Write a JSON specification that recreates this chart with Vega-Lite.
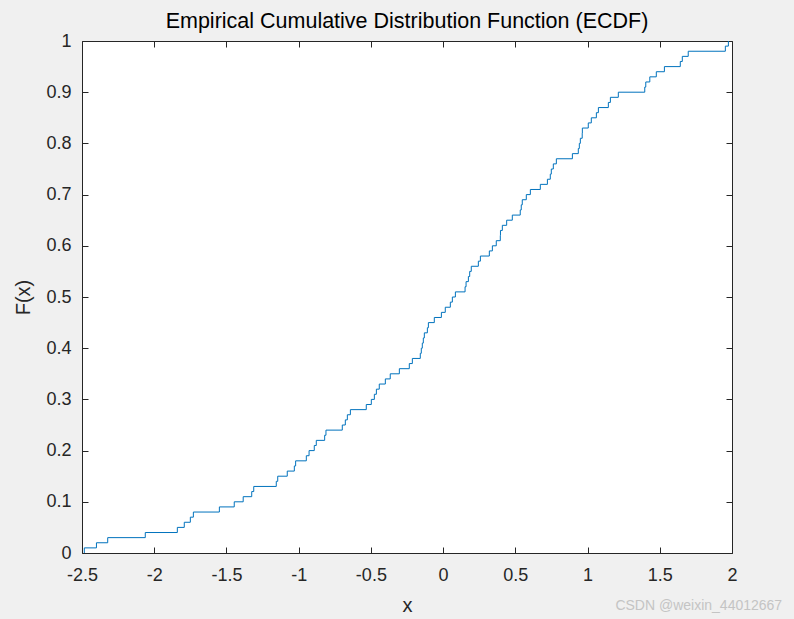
{
  "$schema": "https://vega.github.io/schema/vega-lite/v6.json",
  "width": 650,
  "height": 512,
  "autosize": {"type": "none"},
  "padding": {"left": 82, "top": 41, "right": 62, "bottom": 66},
  "background": "#f0f0f0",
  "title": {"text": "Empirical Cumulative Distribution Function (ECDF)", "font": "Liberation Sans", "fontSize": 21.5, "fontWeight": "normal", "color": "#000000", "offset": 0, "anchor": "middle"},
  "config": {
    "view": {"fill": "#ffffff", "stroke": null},
    "axis": {"domainColor": "#262626", "tickColor": "#262626", "labelColor": "#262626", "titleColor": "#262626", "labelFont": "Liberation Sans", "titleFont": "Liberation Sans", "labelFontSize": 18, "titleFontSize": 20, "titleFontWeight": "normal", "grid": false, "tickSize": -6, "domainWidth": 1, "tickWidth": 1, "labelExpr": "toString(datum.value)"}
  },
  "layer": [
    {
      "data": {"values": [
        {"x": -2.484, "F": 0.00}, {"x": -2.484, "F": 0.01}, {"x": -2.400, "F": 0.02}, {"x": -2.322, "F": 0.03}, {"x": -2.062, "F": 0.04},
        {"x": -1.840, "F": 0.05}, {"x": -1.792, "F": 0.06}, {"x": -1.750, "F": 0.07}, {"x": -1.729, "F": 0.08}, {"x": -1.549, "F": 0.09},
        {"x": -1.446, "F": 0.10}, {"x": -1.384, "F": 0.11}, {"x": -1.325, "F": 0.12}, {"x": -1.311, "F": 0.13}, {"x": -1.155, "F": 0.14},
        {"x": -1.145, "F": 0.15}, {"x": -1.079, "F": 0.16}, {"x": -1.030, "F": 0.17}, {"x": -1.021, "F": 0.18}, {"x": -0.947, "F": 0.19},
        {"x": -0.928, "F": 0.20}, {"x": -0.892, "F": 0.21}, {"x": -0.878, "F": 0.22}, {"x": -0.820, "F": 0.23}, {"x": -0.811, "F": 0.24},
        {"x": -0.698, "F": 0.25}, {"x": -0.677, "F": 0.26}, {"x": -0.663, "F": 0.27}, {"x": -0.642, "F": 0.28}, {"x": -0.532, "F": 0.29},
        {"x": -0.497, "F": 0.30}, {"x": -0.476, "F": 0.31}, {"x": -0.462, "F": 0.32}, {"x": -0.442, "F": 0.33}, {"x": -0.400, "F": 0.34},
        {"x": -0.366, "F": 0.35}, {"x": -0.303, "F": 0.36}, {"x": -0.234, "F": 0.37}, {"x": -0.213, "F": 0.38}, {"x": -0.158, "F": 0.39},
        {"x": -0.151, "F": 0.40}, {"x": -0.144, "F": 0.41}, {"x": -0.137, "F": 0.42}, {"x": -0.130, "F": 0.43}, {"x": -0.109, "F": 0.44},
        {"x": -0.102, "F": 0.45}, {"x": -0.061, "F": 0.46}, {"x": -0.012, "F": 0.47}, {"x": 0.015, "F": 0.48}, {"x": 0.050, "F": 0.49},
        {"x": 0.064, "F": 0.50}, {"x": 0.085, "F": 0.51}, {"x": 0.152, "F": 0.52}, {"x": 0.159, "F": 0.53}, {"x": 0.175, "F": 0.54},
        {"x": 0.184, "F": 0.55}, {"x": 0.195, "F": 0.56}, {"x": 0.244, "F": 0.57}, {"x": 0.258, "F": 0.58}, {"x": 0.320, "F": 0.59},
        {"x": 0.341, "F": 0.60}, {"x": 0.368, "F": 0.61}, {"x": 0.396, "F": 0.62}, {"x": 0.397, "F": 0.63}, {"x": 0.410, "F": 0.64},
        {"x": 0.440, "F": 0.65}, {"x": 0.479, "F": 0.66}, {"x": 0.534, "F": 0.67}, {"x": 0.541, "F": 0.68}, {"x": 0.548, "F": 0.69},
        {"x": 0.576, "F": 0.70}, {"x": 0.604, "F": 0.71}, {"x": 0.673, "F": 0.72}, {"x": 0.722, "F": 0.73}, {"x": 0.742, "F": 0.74},
        {"x": 0.749, "F": 0.75}, {"x": 0.763, "F": 0.76}, {"x": 0.784, "F": 0.77}, {"x": 0.895, "F": 0.78}, {"x": 0.936, "F": 0.79},
        {"x": 0.943, "F": 0.80}, {"x": 0.950, "F": 0.81}, {"x": 0.963, "F": 0.82}, {"x": 0.964, "F": 0.83}, {"x": 1.005, "F": 0.84},
        {"x": 1.026, "F": 0.85}, {"x": 1.061, "F": 0.86}, {"x": 1.075, "F": 0.87}, {"x": 1.144, "F": 0.88}, {"x": 1.158, "F": 0.89},
        {"x": 1.213, "F": 0.90}, {"x": 1.396, "F": 0.91}, {"x": 1.403, "F": 0.92}, {"x": 1.431, "F": 0.93}, {"x": 1.476, "F": 0.94},
        {"x": 1.532, "F": 0.95}, {"x": 1.642, "F": 0.96}, {"x": 1.656, "F": 0.97}, {"x": 1.697, "F": 0.98}, {"x": 1.954, "F": 0.99},
        {"x": 1.975, "F": 1.00}
      ]},
      "mark": {"type": "line", "interpolate": "step-after", "color": "#0072BD", "strokeWidth": 1},
      "encoding": {
        "x": {"field": "x", "type": "quantitative", "scale": {"domain": [-2.5, 2], "nice": false, "zero": false},
              "axis": {"orient": "bottom", "title": "x", "values": [-2.5, -2, -1.5, -1, -0.5, 0, 0.5, 1, 1.5, 2], "labelPadding": 19, "titlePadding": 11, "labelFlush": false}},
        "y": {"field": "F", "type": "quantitative", "scale": {"domain": [0, 1], "nice": false, "zero": false},
              "axis": {"orient": "left", "title": "F(x)", "values": [0, 0.1, 0.2, 0.3, 0.4, 0.5, 0.6, 0.7, 0.8, 0.9, 1], "labelPadding": 17, "titlePadding": 12, "labelFlush": false}}
      }
    },
    {
      "data": {"values": [{"note": "CSDN @weixin_44012667", "x": 1.77, "F": -0.104}]},
      "mark": {"type": "text", "font": "Liberation Sans", "fontSize": 14, "color": "#c4c4c4", "clip": false},
      "encoding": {
        "text": {"field": "note"},
        "x": {"field": "x", "type": "quantitative", "axis": {"orient": "top", "title": null, "labels": false, "values": [-2.5, -2, -1.5, -1, -0.5, 0, 0.5, 1, 1.5, 2]}},
        "y": {"field": "F", "type": "quantitative", "axis": {"orient": "right", "title": null, "labels": false, "values": [0, 0.1, 0.2, 0.3, 0.4, 0.5, 0.6, 0.7, 0.8, 0.9, 1]}}
      }
    }
  ],
  "resolve": {"axis": {"x": "independent", "y": "independent"}}
}
